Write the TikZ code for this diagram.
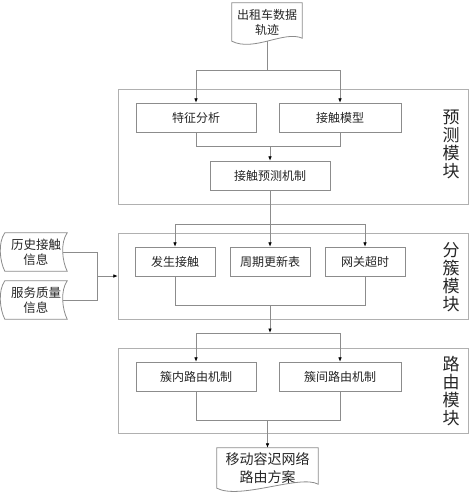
\documentclass[tikz,border=0pt]{standalone}
\usepackage{fontspec}
\setmainfont{Noto Sans CJK SC}
\usetikzlibrary{arrows.meta,positioning,calc}
\definecolor{linegray}{HTML}{8C8C8C}
\definecolor{framegray}{HTML}{B0B0B0}
\definecolor{textgray}{HTML}{262626}

\begin{document}
\begin{tikzpicture}[
  x=1pt, y=-1pt,
  every node/.style={inner sep=0pt, align=center, text=textgray, font=\fontsize{12}{15}\selectfont},
  box/.style={draw=linegray, minimum height=29pt, minimum width=120pt},
  smallbox/.style={box, minimum width=80pt},
  frame/.style={draw=framegray, minimum width=350pt},
  lbl/.style={font=\fontsize{17}{18}\selectfont},
  doc/.style={minimum width=70pt, minimum height=38pt},
  line/.style={draw=linegray, line width=0.8pt},
  arr/.style={line, -{Latex[length=4.5pt,width=3.6pt,color=black]}},
]
  \useasboundingbox[fill=white] (0,0) rectangle (474,503);

  % module frames
  \node[frame, minimum height=115pt] (pred) at (293,146.5) {};
  \node[frame, minimum height=86pt] (clus) at (293,276) {};
  \node[frame, minimum height=85pt] (route) at (293,390.5) {};
  \node[lbl] (predlbl) at (451,144) {预\\测\\模\\块};
  \node[lbl] (cluslbl) at (451,277.5) {分\\簇\\模\\块};
  \node[lbl] (routelbl) at (451,391) {路\\由\\模\\块};

  % input / output documents
  \node[doc] (taxi) at (267,22) {出租车数据\\轨迹};
  \draw[line] (taxi.north west) -- (taxi.north east) -- ($(taxi.south east)+(0,-3)$)
    .. controls ($(taxi.south east)+(-18,-11)$) and ($(taxi.south west)+(22,11)$) .. (taxi.south west) -- cycle;
  \node[doc, minimum width=101pt, minimum height=40pt, font=\fontsize{14}{18.5}\selectfont] (plan) at (267.5,468) {移动容迟网络\\路由方案};
  \draw[line] (plan.north west) -- (plan.north east) -- ($(plan.south east)+(0,-4)$)
    .. controls ($(plan.south east)+(-18,-14)$) and ($(plan.south west)+(23,12)$) .. (plan.south west) -- cycle;

  \node[doc, minimum width=62pt, font=\fontsize{12.5}{15}\selectfont] (hist) at (36,252) {历史接触\\信息};
  \node[doc, minimum width=62pt, font=\fontsize{12.5}{15}\selectfont] (qos) at (36,300) {服务质量\\信息};
  \foreach \d in {hist,qos}
    \draw[line] (\d.north west) -- (\d.north east)
      .. controls ($(\d.north east)+(-7,10)$) and ($(\d.south east)+(-5,-10)$) .. (\d.south east)
      -- (\d.south west)
      .. controls ($(\d.south west)+(-5,-10)$) and ($(\d.north west)+(-7,10)$) .. (\d.north west) -- cycle;

  % process boxes
  \node[box] (feat) at (196,117.5) {特征分析};
  \node[box, minimum width=122pt] (model) at (340,117.5) {接触模型};
  \node[box] (pmech) at (270,175.5) {接触预测机制};
  \node[smallbox] (contact) at (175,261.5) {发生接触};
  \node[smallbox] (period) at (270,261.5) {周期更新表};
  \node[smallbox] (gateway) at (365,261.5) {网关超时};
  \node[box] (intra) at (196,376.5) {簇内路由机制};
  \node[box, minimum width=122pt] (inter) at (340,376.5) {簇间路由机制};

  % connectors
  \coordinate (t0) at ($(taxi.south)+(0,29)$);
  \draw[line] (taxi.south) -- (t0);
  \draw[arr] (t0) -| (feat.north);
  \draw[arr] (t0) -| (model.north);

  \draw[line] (feat.south) -- ++(0,14) -| (model.south);
  \coordinate (t1) at (pmech.north |- 0,146);
  \draw[arr] (t1) -- (pmech.north);

  \coordinate (t2) at ($(pmech.south)+(0,34)$);
  \draw[line] (pmech.south) -- (t2);
  \draw[arr] (t2) -| (contact.north);
  \draw[arr] (t2) -| (gateway.north);
  \draw[arr] (t2) -- (period.north);

  \draw[line] (contact.south) -- ++(0,29) -| (gateway.south);
  \coordinate (t3) at ($(contact.south)!0.5!(gateway.south)+(0,29)$);
  \coordinate (t4) at (t3 |- 0,333);
  \draw[arr] (t3) -- (t4);
  \draw[arr] (t4) -| (intra.north);
  \draw[arr] (t4) -| (inter.north);

  \draw[line] (intra.south) -- ++(0,29) -| (inter.south);
  \coordinate (t5) at (plan.north |- 0,420);
  \draw[arr] (t5) -- (plan.north);

  \draw[line] ([xshift=-4pt]hist.east) -- ++(34,0) |- ([xshift=-4pt]qos.east);
  \coordinate (t6) at ($(hist.east)!0.5!(qos.east)+(30,0)$);
  \draw[arr] (t6) -- (clus.west);
\end{tikzpicture}
\end{document}
